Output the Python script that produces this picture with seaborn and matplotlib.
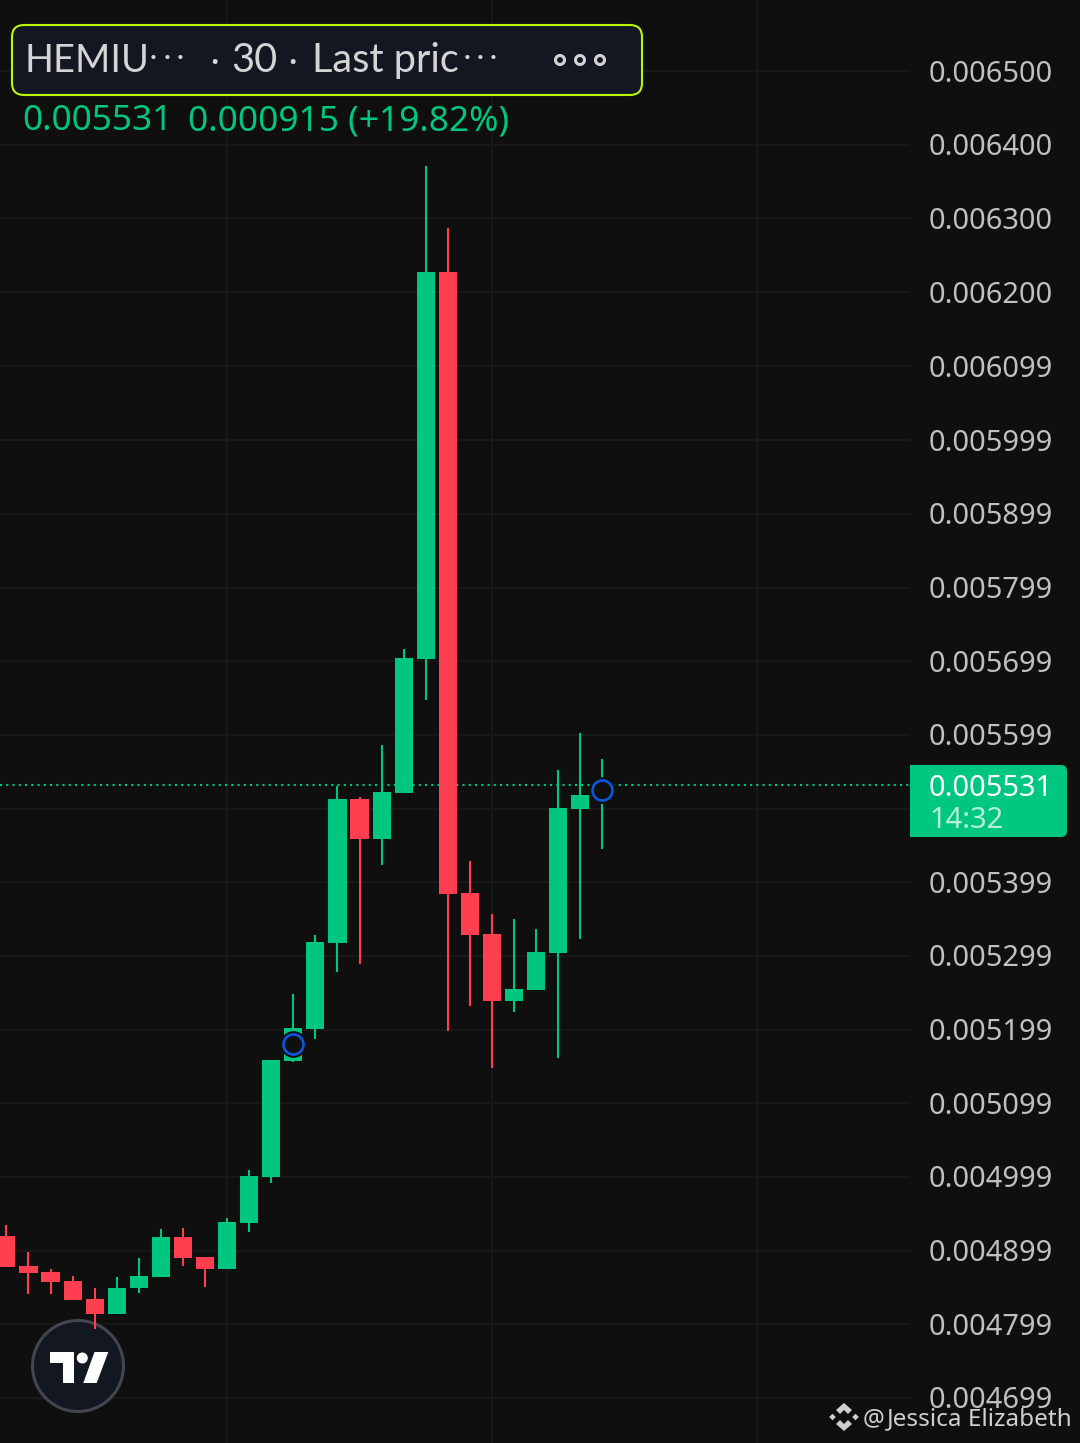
import numpy as np
import pandas as pd
import seaborn as sns
import matplotlib.pyplot as plt
from matplotlib.patches import Circle, FancyBboxPatch, Polygon, Rectangle
from matplotlib.transforms import ScaledTranslation

BG = '#0f0f0f'
GRID = '#191919'
GREEN = '#00c77f'
RED = '#ff3f4f'
LABEL = '#c0c0c0'

# candles in millionths of a unit, left to right
opens = [4919, 4878, 4870, 4858, 4833, 4813, 4848, 4863, 4917, 4890, 4874, 4936, 4999, 5156, 5200,
         5316, 5512, 5458, 5520, 5702, 6227, 5384, 5329, 5238, 5253, 5303, 5498, 5517]
closes = [4877, 4869, 4856, 4832, 4813, 4848, 4865, 4917, 4889, 4874, 4938, 5000, 5158, 5201, 5318,
          5512, 5458, 5521, 5703, 6227, 5383, 5327, 5238, 5254, 5304, 5500, 5517, 5531]
highs = [4934, 4897, 4874, 4865, 4848, 4863, 4889, 4928, 4930, 4890, 4943, 5008, 5158, 5247, 5327,
         5530, 5515, 5585, 5716, 6371, 6287, 5428, 5356, 5349, 5335, 5551, 5602, 5566]
lows = [4877, 4840, 4840, 4832, 4793, 4813, 4841, 4863, 4878, 4850, 4874, 4924, 4991, 5155, 5186,
        5277, 5288, 5422, 5520, 5646, 5197, 5231, 5147, 5223, 5253, 5160, 5322, 5444]

last_price = 5531
marker_candles = [13, 27]
marker_prices = [5179, 5524]

tick_prices = [6500, 6400, 6300, 6200, 6099, 5999, 5899, 5799, 5699, 5599, 5499,
               5399, 5299, 5199, 5099, 4999, 4899, 4799, 4699]
tick_labels = ['0.006500', '0.006400', '0.006300', '0.006200', '0.006099', '0.005999', '0.005899',
               '0.005799', '0.005699', '0.005599', '', '0.005399', '0.005299', '0.005199',
               '0.005099', '0.004999', '0.004899', '0.004799', '0.004699']
time_ticks = [10, 22, 34]

df = pd.DataFrame({'open': opens, 'close': closes, 'high': highs, 'low': lows})
df['candle'] = df.index
df['top'] = df[['open', 'close']].max(axis=1)
df['bottom'] = df[['open', 'close']].min(axis=1)
df['size'] = df['top'] - df['bottom']
df['colour'] = np.where(df['close'] >= df['open'], GREEN, RED)

sns.set_theme(style='dark', rc={'figure.facecolor': BG, 'axes.facecolor': BG})
plt.rcParams['font.family'] = ['Noto Sans', 'DejaVu Sans']

fig = plt.figure(figsize=(10.8, 14.43), dpi=100)
ax = fig.add_axes([0, 0, 910 / 1080, 1])

# wicks first, bodies on top
for colour, part in df.groupby('colour'):
    ax.vlines(part['candle'], part['low'], part['high'], color=colour, lw=1.5, zorder=2)
    sns.barplot(x=part['candle'].values, y=part['size'].values, bottom=part['bottom'].values,
                native_scale=True, width=0.82, color=colour, saturation=1, errorbar=None,
                linewidth=0, zorder=3, ax=ax)

ax.axhline(last_price, color=GREEN, lw=1.5, linestyle=(0, (1, 2)), zorder=1.6)

sns.scatterplot(x=marker_candles, y=marker_prices, s=370, color=BG, linewidth=0, zorder=4, ax=ax)
sns.scatterplot(x=marker_candles, y=marker_prices, s=207, color=BG, edgecolor='#0a56e0',
                linewidth=1.9, zorder=5, ax=ax)

ax.set_xlim(-0.29, 40.94)
ax.set_ylim(4637.9, 6596.4)
ax.set_xticks(time_ticks)
ax.set_xticklabels([])
ax.set_yticks(tick_prices)
ax.set_yticklabels(tick_labels)
ax.yaxis.tick_right()
ax.tick_params(axis='y', length=0, pad=13.6, labelsize=20.9, labelcolor=LABEL)
ax.tick_params(axis='x', length=0)
for lab in ax.get_yticklabels():
    lab.set_transform(lab.get_transform() + ScaledTranslation(0, 0.5 / 100, fig.dpi_scale_trans))
ax.grid(True, color=GRID, lw=1.4)
ax.set_axisbelow(True)
sns.despine(ax=ax, left=True, bottom=True, right=True, top=True)
ax.set_xlabel('')
ax.set_ylabel('')

# overlay in pixel coordinates for the app furniture
ov = fig.add_axes([0, 0, 1, 1])
ov.set_xlim(0, 1080)
ov.set_ylim(1443, 0)
ov.axis('off')
ov.patch.set_alpha(0)

ov.add_patch(FancyBboxPatch((12, 25), 630, 70, boxstyle='round,pad=0,rounding_size=12',
                            fc='#131722', ec='#bdf400', lw=1.5))
head = dict(va='baseline', ha='left', color='#d4d4d4', family=['Lato'])
ov.text(25, 72, 'HEMIU', fontsize=27.4, **head)
ov.text(231, 72, '30', fontsize=28.6, **head)
ov.text(312, 72, 'Last pric', fontsize=28.6, **head)
for dot_x in [153, 167, 180, 467, 480, 493]:
    ov.text(dot_x, 68, '·', va='baseline', ha='center', color='#d4d4d4', fontsize=24)
for dot_x in [214, 292]:
    ov.text(dot_x, 69, '•', va='baseline', ha='center', color='#d4d4d4', fontsize=16)
for cx in [560, 580, 600]:
    ov.add_patch(Circle((cx, 60), 4.5, fc='none', ec='#d4d4d4', lw=2.2))

ov.text(22, 130, '0.005531', va='baseline', ha='left', color=GREEN, fontsize=25.3)
ov.text(188, 130, '0.000915 (+19.82%)', va='baseline', ha='left', color=GREEN, fontsize=25.4)

# last price tag
ov.add_patch(Rectangle((910, 765), 20, 72, fc=GREEN, ec='none'))
ov.add_patch(FancyBboxPatch((915, 765), 152, 72, boxstyle='round,pad=0,rounding_size=6',
                            fc=GREEN, ec='none'))
ov.text(929, 796.5, '0.005531', va='baseline', ha='left', color='white', fontsize=20.9)
ov.text(929, 828.5, '14:32', va='baseline', ha='left', color='#b3efd9', fontsize=20.9)

# logo bottom left, the candle wick runs over its ring
ax.add_patch(Circle((78, 1366), 45.5, fc='#131722', ec='#43464f', lw=2.2, transform=ov.transData, zorder=1.7, clip_on=False))
ax.add_patch(Polygon([(50, 1352), (74, 1352), (74, 1383), (63, 1383), (63, 1363), (50, 1363)],
                     fc='white', ec='none', transform=ov.transData, zorder=1.8))
ax.add_patch(Circle((82.3, 1358), 5.5, fc='white', ec='none', transform=ov.transData, zorder=1.8))
ax.add_patch(Polygon([(94.5, 1352), (108.3, 1352), (96.7, 1383), (83.3, 1383)], fc='white', ec='none',
                     transform=ov.transData, zorder=1.8))

# watermark
wm = '#cfcfcf'
lx, ly = 844, 1417
ov.add_patch(Polygon([(lx, ly - 14), (lx + 8, ly - 7), (lx + 4, ly - 3), (lx, ly - 7), (lx - 4, ly - 3), (lx - 8, ly - 7)],
                     fc=wm, ec='none'))
ov.add_patch(Polygon([(lx, ly + 14), (lx + 8, ly + 7), (lx + 4, ly + 3), (lx, ly + 7), (lx - 4, ly + 3), (lx - 8, ly + 7)],
                     fc=wm, ec='none'))
for dx in [-11.5, 11.5]:
    ov.add_patch(Polygon([(lx + dx - 3.3, ly), (lx + dx, ly - 3.3), (lx + dx + 3.3, ly), (lx + dx, ly + 3.3)], fc=wm, ec='none'))
ov.text(863, 1425, '@', va='baseline', ha='left', color=wm, fontsize=17.5)
ov.text(887, 1425, 'Jessica Elizabeth', va='baseline', ha='left', color=wm, fontsize=17.5)

fig.savefig('out.png', dpi=100, facecolor=BG)
